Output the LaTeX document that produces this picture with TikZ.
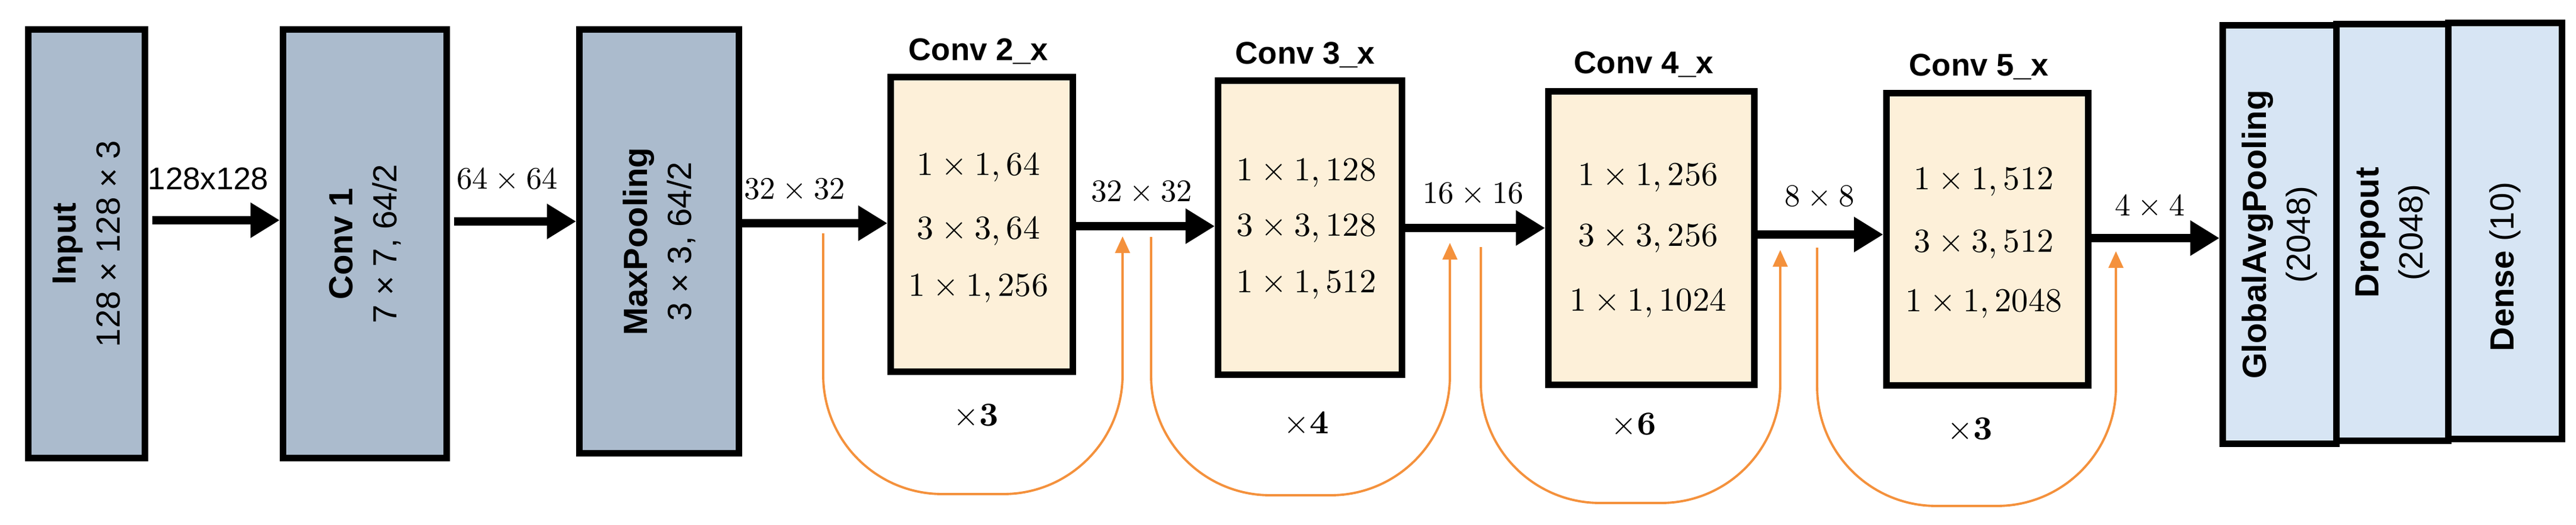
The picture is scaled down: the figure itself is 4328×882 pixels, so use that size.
\documentclass[tikz,border=0pt]{standalone}
\usepackage{unicode-math}
\setmainfont{Liberation Sans}
\setmathfont{Latin Modern Math}
\usetikzlibrary{arrows.meta}
\definecolor{grayblue}{HTML}{ABBBCD}
\definecolor{beige}{HTML}{FDF0D9}
\definecolor{lblue}{HTML}{D7E5F4}
\definecolor{skip}{HTML}{F4913C}
\tikzset{
  x=0.01cm,y=-0.01cm,
  blk/.style={draw=black,line width=3.2pt,inner sep=0pt,anchor=north west},
  gbox/.style={blk,fill=grayblue},
  cbox/.style={blk,fill=beige},
  lbox/.style={blk,fill=lblue},
  vtxt/.style={rotate=90,align=center,font=\fontsize{16}{21}\selectfont},
  ttl/.style={font=\fontsize{15}{18}\selectfont\bfseries},
  rowt/.style={font=\fontsize{16}{19}\selectfont},
  lab/.style={font=\fontsize{15}{18}\selectfont},
  flow/.style={line width=4pt,-{Triangle[length=14pt,width=16pt]}},
  sk/.style={draw=skip,line width=1.1pt,rounded corners=2cm,-{Triangle[length=8pt,width=7pt]}},
}
\begin{document}
\begin{tikzpicture}
\useasboundingbox (0,0) rectangle (4328,882);
% boxes
\node[gbox,minimum width=196*0.01cm,minimum height=720*0.01cm] (in) at (42,44) {};
\node[gbox,minimum width=275*0.01cm,minimum height=720*0.01cm] (c1) at (470,44) {};
\node[gbox,minimum width=268*0.01cm,minimum height=712*0.01cm] (mp) at (968,44) {};
\node[vtxt] at (in.center) {\textbf{Input}\\128 × 128 × 3};
\node[vtxt] at (c1.center) {\textbf{Conv 1}\\7 × 7, 64/2};
\node[vtxt] at (mp.center) {\textbf{MaxPooling}\\3 × 3, 64/2};

\node[cbox,minimum width=306*0.01cm,minimum height=495*0.01cm] (c2) at (1491,124) {};
\node[cbox,minimum width=309*0.01cm,minimum height=494*0.01cm] (c3) at (2041,130) {};
\node[cbox,minimum width=346*0.01cm,minimum height=493*0.01cm] (c4) at (2596,148) {};
\node[cbox,minimum width=339*0.01cm,minimum height=491*0.01cm] (c5) at (3164,151) {};

\node[ttl] (t2) at (1644,86) {Conv 2\_x};
\node[ttl] (t3) at (2193,92) {Conv 3\_x};
\node[ttl] (t4) at (2762,108) {Conv 4\_x};
\node[ttl] (t5) at (3325,112) {Conv 5\_x};

\node[rowt] at (1644,281) {$1\times1,64$};
\node[rowt] at (1644,388) {$3\times3,64$};
\node[rowt] at (1644,484) {$1\times1,256$};
\node[rowt] at (2195,290) {$1\times1,128$};
\node[rowt] at (2195,383) {$3\times3,128$};
\node[rowt] at (2195,478) {$1\times1,512$};
\node[rowt] at (2769,298) {$1\times1,256$};
\node[rowt] at (2769,400) {$3\times3,256$};
\node[rowt] at (2769,509) {$1\times1,1024$};
\node[rowt] at (3333,305) {$1\times1,512$};
\node[rowt] at (3333,410) {$3\times3,512$};
\node[rowt] at (3333,510) {$1\times1,2048$};

\node[rowt] at (1640,697) {$\times\symbf{3}$};
\node[rowt] at (2195,710) {$\times\symbf{4}$};
\node[rowt] at (2745,712) {$\times\symbf{6}$};
\node[rowt] at (3310,720) {$\times\symbf{3}$};

\node[lbox,minimum width=191*0.01cm,minimum height=703*0.01cm] (gap) at (3729,37) {};
\node[lbox,minimum width=188*0.01cm,minimum height=700*0.01cm] (dr) at (3920,35) {};
\node[lbox,minimum width=191*0.01cm,minimum height=699*0.01cm] (de) at (4108,33) {};
\node[vtxt] at (gap.center) {\textbf{GlobalAvgPooling}\\(2048)};
\node[vtxt] at (dr.center) {\textbf{Dropout}\\(2048)};
\node[vtxt] at ([yshift=-0.6cm]de.center) {\textbf{Dense} (10)};

% flow arrows
\coordinate (a1) at (256,370);
\draw[flow] (a1) -- (a1 -| c1.west);
\coordinate (a2) at (763,372);
\draw[flow] (a2) -- (a2 -| mp.west);
\coordinate (a3) at (1246,375);
\draw[flow] (a3) -- (a3 -| c2.west);
\draw[flow] (c2.east |- 0,380) -- (c3.west |- 0,380);
\draw[flow] (c3.east |- 0,383) -- (c4.west |- 0,383);
\draw[flow] (c4.east |- 0,394) -- (c5.west |- 0,394);
\draw[flow] (c5.east |- 0,400) -- (gap.west |- 0,400);

\node[lab] at (350,300) {128x128};
\node[lab] at (852,300) {$64\times64$};
\node[lab] at (1335,318) {$32\times32$};
\node[lab] at (1918,322) {$32\times32$};
\node[lab] at (2475,325) {$16\times16$};
\node[lab] at (3057,330) {$8\times8$};
\node[lab] at (3612,345) {$4\times4$};

% skip connections
\coordinate (s1a) at (1383,392); \coordinate (s1b) at (1886,397);
\coordinate (s2a) at (1934,398); \coordinate (s2b) at (2436,408);
\coordinate (s3a) at (2488,415); \coordinate (s3b) at (2991,420);
\coordinate (s4a) at (3053,416); \coordinate (s4b) at (3555,422);
\draw[sk] (s1a) -- (s1a |- 0,830) -- (s1b |- 0,830) -- (s1b);
\draw[sk] (s2a) -- (s2a |- 0,832) -- (s2b |- 0,832) -- (s2b);
\draw[sk] (s3a) -- (s3a |- 0,845) -- (s3b |- 0,845) -- (s3b);
\draw[sk] (s4a) -- (s4a |- 0,850) -- (s4b |- 0,850) -- (s4b);
\end{tikzpicture}
\end{document}
